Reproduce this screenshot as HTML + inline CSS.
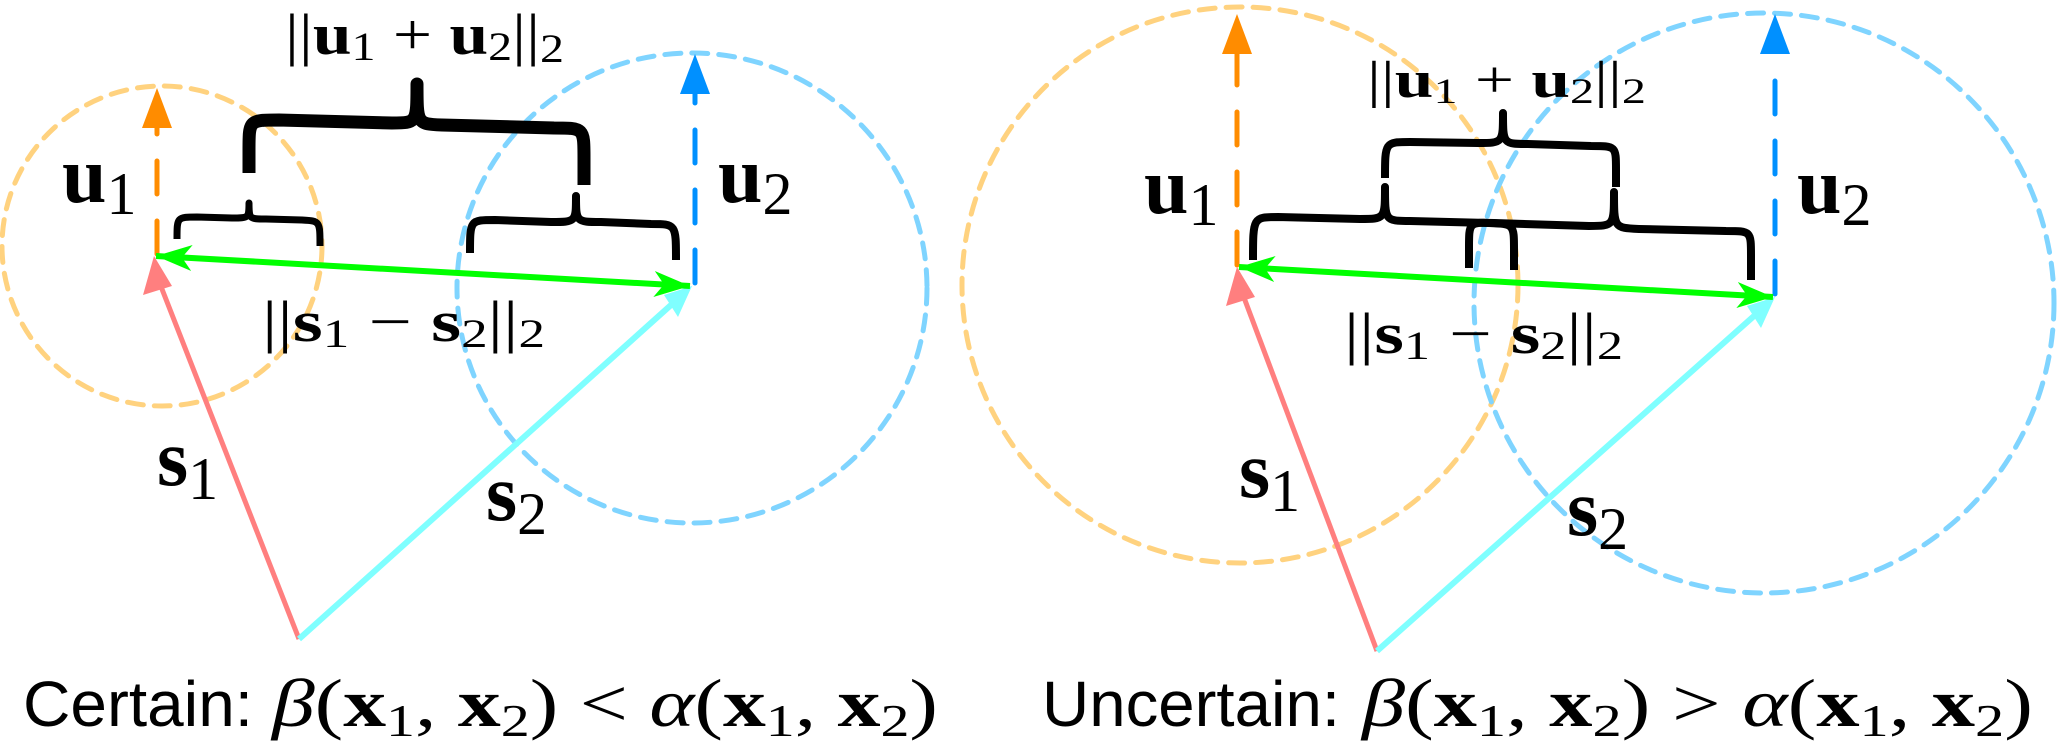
<!DOCTYPE html>
<html><head><meta charset="utf-8"><style>
html,body{margin:0;padding:0;background:#fff;}
svg{display:block;}
.m{font-family:"Liberation Serif","DejaVu Serif",serif;fill:#000;}
.b{font-weight:bold;}
.n{font-weight:normal;}
.cap{font-family:"Liberation Sans",sans-serif;fill:#000;}
</style></head><body>
<svg width="2058" height="742" viewBox="0 0 2058 742" xmlns="http://www.w3.org/2000/svg">
<defs>
<marker id="hg" markerUnits="userSpaceOnUse" markerWidth="40" markerHeight="30" refX="36" refY="13" orient="auto-start-reverse" viewBox="0 0 40 26">
<path d="M36,13 L0,0 L10,13 L0,26 Z" fill="#00ff00"/></marker>
</defs>

<!-- ===== LEFT PANEL ===== -->
<circle cx="162" cy="246" r="160" fill="none" stroke="#ffd27f" stroke-width="5" stroke-dasharray="16 11" stroke-linecap="round"/>
<circle cx="692" cy="288" r="235" fill="none" stroke="#7fd4ff" stroke-width="5" stroke-dasharray="16 11" stroke-linecap="round"/>

<line x1="299" y1="639" x2="160" y2="284" stroke="#ff7f7f" stroke-width="5"/>
<polygon points="154,256 143,295 172,286" fill="#ff7f7f"/>
<line x1="299" y1="639" x2="671" y2="305" stroke="#7fffff" stroke-width="6"/>
<polygon points="692,286 664,295 678,317" fill="#7fffff"/>

<line x1="157" y1="254" x2="157" y2="128" stroke="#ff8c00" stroke-width="5" stroke-dasharray="33 27" stroke-linecap="round"/>
<polygon points="157,88 142,128 172,128" fill="#ff8c00"/>
<line x1="695" y1="283" x2="695" y2="54" stroke="#0090ff" stroke-width="5" stroke-dasharray="33 27" stroke-linecap="round"/>
<polygon points="695,54 680,94 710,94" fill="#0090ff"/>

<line x1="156" y1="256" x2="690" y2="286" stroke="#00ff00" stroke-width="6" marker-start="url(#hg)" marker-end="url(#hg)"/>

<g fill="none" stroke="#000" stroke-linejoin="round">
<path d="M249,173 L249,150 C249,120 249,120 279,120 L392,123 C417,123 417,123 417,84 C417,124 417,124 442,125 L554,128 C584,128 584,128 584,158 L584,185" stroke-width="13"/>
<path d="M177,239 C177,217 177,217 197,217 L232,218 C249,218 249,218 249,203 C249,219 249,219 266,219 L302,220 C320,221 320,221 320,246" stroke-width="7"/>
<path d="M470,253 C470,220 470,220 495,220 L551,222 C576,222 576,222 576,196 C576,222 576,222 601,222 L651,224 C676,224 676,224 676,260" stroke-width="8"/>
</g>

<text class="m" font-size="58" x="285" y="54" textLength="279" lengthAdjust="spacingAndGlyphs">||<tspan class="b">u</tspan><tspan class="n" font-size="40" dy="6">1</tspan><tspan dy="-6"> + </tspan><tspan class="b">u</tspan><tspan class="n" font-size="40" dy="6">2</tspan><tspan dy="-6">||</tspan><tspan class="n" font-size="40" dy="8">2</tspan></text>
<text class="m" font-size="58" x="262" y="341" textLength="283" lengthAdjust="spacingAndGlyphs">||<tspan class="b">s</tspan><tspan class="n" font-size="40" dy="6">1</tspan><tspan dy="-6"> − </tspan><tspan class="b">s</tspan><tspan class="n" font-size="40" dy="6">2</tspan><tspan dy="-6">||</tspan><tspan class="n" font-size="40" dy="6">2</tspan></text>
<text class="m" font-size="80" x="62" y="202"><tspan class="b">u</tspan><tspan font-size="60" dy="12">1</tspan></text>
<text class="m" font-size="80" x="718" y="202"><tspan class="b">u</tspan><tspan font-size="60" dy="12">2</tspan></text>
<text class="m" font-size="80" x="157" y="485"><tspan class="b">s</tspan><tspan font-size="60" dy="14">1</tspan></text>
<text class="m" font-size="80" x="486" y="520"><tspan class="b">s</tspan><tspan font-size="60" dy="14">2</tspan></text>

<text class="cap" font-size="64" x="23" y="726" textLength="230" lengthAdjust="spacingAndGlyphs">Certain:</text>
<text class="m" font-size="68" x="272" y="726" textLength="666" lengthAdjust="spacingAndGlyphs"><tspan font-style="italic">β</tspan>(<tspan class="b">x</tspan><tspan font-size="46" dy="10">1</tspan><tspan dy="-10">, </tspan><tspan class="b">x</tspan><tspan font-size="46" dy="10">2</tspan><tspan dy="-10">) &lt; </tspan><tspan font-style="italic">α</tspan>(<tspan class="b">x</tspan><tspan font-size="46" dy="10">1</tspan><tspan dy="-10">, </tspan><tspan class="b">x</tspan><tspan font-size="46" dy="10">2</tspan><tspan dy="-10">)</tspan></text>

<!-- ===== RIGHT PANEL ===== -->
<circle cx="1240" cy="285" r="278" fill="none" stroke="#ffd27f" stroke-width="5" stroke-dasharray="16 11" stroke-linecap="round"/>
<circle cx="1764" cy="303" r="290" fill="none" stroke="#7fd4ff" stroke-width="5" stroke-dasharray="16 11" stroke-linecap="round"/>

<line x1="1377" y1="651" x2="1243" y2="295" stroke="#ff7f7f" stroke-width="5"/>
<polygon points="1237,267 1226,306 1255,297" fill="#ff7f7f"/>
<line x1="1377" y1="651" x2="1754" y2="316" stroke="#7fffff" stroke-width="6"/>
<polygon points="1775,297 1747,306 1761,328" fill="#7fffff"/>

<line x1="1237" y1="265" x2="1237" y2="54" stroke="#ff8c00" stroke-width="5" stroke-dasharray="33 27" stroke-linecap="round"/>
<polygon points="1237,14 1222,54 1252,54" fill="#ff8c00"/>
<line x1="1775" y1="294" x2="1775" y2="54" stroke="#0090ff" stroke-width="5" stroke-dasharray="33 27" stroke-linecap="round"/>
<polygon points="1775,14 1760,54 1790,54" fill="#0090ff"/>

<line x1="1239" y1="267" x2="1773" y2="297" stroke="#00ff00" stroke-width="6" marker-start="url(#hg)" marker-end="url(#hg)"/>

<g fill="none" stroke="#000" stroke-width="8" stroke-linejoin="round">
<path d="M1385,178 C1385,142 1385,142 1410,142 L1478,143 C1503,143 1503,143 1503,113 C1503,144 1503,144 1528,144 L1591,146 C1616,146 1616,146 1616,170 L1616,187"/>
<path d="M1253,260 C1253,217 1253,217 1278,217 L1360,219 C1385,219 1385,219 1385,187 C1385,221 1385,221 1410,221 L1489,223 C1514,224 1514,224 1514,250 L1514,270"/>
<path d="M1469,268 L1469,248 C1469,222 1469,222 1494,223 L1589,226 C1614,226 1614,226 1614,192 C1614,228 1614,228 1639,229 L1726,231 C1751,231 1751,231 1751,256 L1751,280"/>
</g>

<text class="m" font-size="52" x="1367" y="97" textLength="279" lengthAdjust="spacingAndGlyphs">||<tspan class="b">u</tspan><tspan class="n" font-size="36" dy="6">1</tspan><tspan dy="-6"> + </tspan><tspan class="b">u</tspan><tspan class="n" font-size="36" dy="6">2</tspan><tspan dy="-6">||</tspan><tspan class="n" font-size="36" dy="6">2</tspan></text>
<text class="m" font-size="58" x="1344" y="353" textLength="279" lengthAdjust="spacingAndGlyphs">||<tspan class="b">s</tspan><tspan class="n" font-size="40" dy="6">1</tspan><tspan dy="-6"> − </tspan><tspan class="b">s</tspan><tspan class="n" font-size="40" dy="6">2</tspan><tspan dy="-6">||</tspan><tspan class="n" font-size="40" dy="6">2</tspan></text>
<text class="m" font-size="80" x="1144" y="213"><tspan class="b">u</tspan><tspan font-size="60" dy="12">1</tspan></text>
<text class="m" font-size="80" x="1797" y="213"><tspan class="b">u</tspan><tspan font-size="60" dy="12">2</tspan></text>
<text class="m" font-size="80" x="1239" y="497"><tspan class="b">s</tspan><tspan font-size="60" dy="14">1</tspan></text>
<text class="m" font-size="80" x="1567" y="535"><tspan class="b">s</tspan><tspan font-size="60" dy="14">2</tspan></text>

<text class="cap" font-size="64" x="1042" y="726" textLength="298" lengthAdjust="spacingAndGlyphs">Uncertain:</text>
<text class="m" font-size="68" x="1362" y="726" textLength="671" lengthAdjust="spacingAndGlyphs"><tspan font-style="italic">β</tspan>(<tspan class="b">x</tspan><tspan font-size="46" dy="10">1</tspan><tspan dy="-10">, </tspan><tspan class="b">x</tspan><tspan font-size="46" dy="10">2</tspan><tspan dy="-10">) &gt; </tspan><tspan font-style="italic">α</tspan>(<tspan class="b">x</tspan><tspan font-size="46" dy="10">1</tspan><tspan dy="-10">, </tspan><tspan class="b">x</tspan><tspan font-size="46" dy="10">2</tspan><tspan dy="-10">)</tspan></text>
</svg>
</body></html>
